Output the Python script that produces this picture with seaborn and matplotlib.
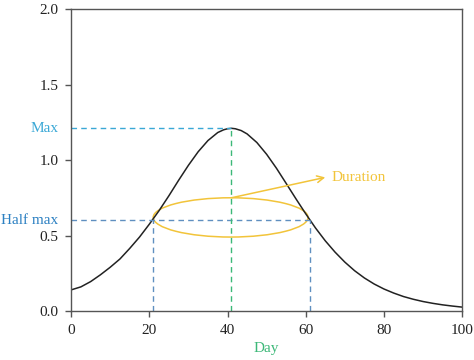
import matplotlib
matplotlib.use("Agg")
import matplotlib.pyplot as plt
import matplotlib.transforms as mtransforms
from matplotlib.patches import Ellipse
import seaborn as sns
import pandas as pd

# Curve (day, value)
days = [0, 2.5, 5, 7.5, 10, 12.5, 15, 17.5, 20, 22.5, 25, 27.5, 30, 32.5, 35,
        37.5, 39, 40, 41, 42, 43.5, 45, 47.5, 50, 52.5, 55, 57.5, 60, 62.5, 65,
        67.5, 70, 72.5, 75, 77.5, 80, 82.5, 85, 87.5, 90, 92.5, 95, 97.5, 100]
values = [0.14, 0.16, 0.195, 0.24, 0.29, 0.345, 0.415, 0.49, 0.575, 0.665,
          0.763, 0.866, 0.965, 1.055, 1.129, 1.182, 1.200, 1.207, 1.210, 1.207,
          1.195, 1.173, 1.116, 1.038, 0.946, 0.845, 0.743, 0.644, 0.550, 0.465,
          0.390, 0.324, 0.267, 0.219, 0.179, 0.146, 0.119, 0.096, 0.078, 0.063,
          0.051, 0.041, 0.033, 0.026]

peak_day = 41
max_value = 1.21
half_value = 0.6
half_left = 21
half_right = 61

x_ticks = [0, 20, 40, 60, 80, 100]
y_ticks = [0.0, 0.5, 1.0, 1.5, 2.0]

sns.set_theme(style="ticks")
plt.rcParams['font.family'] = ['Liberation Serif', 'DejaVu Serif']

fig = plt.figure(figsize=(4.74, 3.6), dpi=100)
ax = fig.add_axes([0.150, 0.136, 0.825, 0.839])

df = pd.DataFrame({"Day": days, "Value": values})
sns.lineplot(data=df, x="Day", y="Value", ax=ax, color="#222222", linewidth=1.1)

c_max = "#3aa8d6"
c_half = "#2c80c2"
c_halfline = "#5f8fc0"
c_green = "#3cb878"
c_yellow = "#f2c43a"

fs = 11
dash = (0, (4, 3))
ax.plot([0, peak_day], [max_value, max_value], color=c_max, lw=1.0, linestyle=dash)
ax.plot([0, half_right], [half_value, half_value], color=c_halfline, lw=1.0, linestyle=dash)
ax.plot([half_left, half_left], [0, half_value], color=c_halfline, lw=1.0, linestyle=dash)
ax.plot([half_right, half_right], [0, half_value], color=c_halfline, lw=1.0, linestyle=dash)
ax.plot([peak_day, peak_day], [0, max_value], color=c_green, lw=1.0, linestyle=dash)

ell = Ellipse((40.8, 0.62), width=39.6, height=0.26, fill=False,
              edgecolor=c_yellow, lw=1.1)
ax.add_patch(ell)
ax.annotate("", xy=(65, 0.885), xytext=(peak_day, 0.75),
            arrowprops=dict(arrowstyle="->", color=c_yellow, lw=1.1,
                            mutation_scale=12, shrinkA=0, shrinkB=0))
ax.text(66.5, 0.885, "Duration", color=c_yellow, fontsize=fs,
        ha="left", va="center")

trans = mtransforms.blended_transform_factory(ax.transAxes, ax.transData)
ax.text(-0.033, max_value, "Max", color=c_max, fontsize=fs,
        ha="right", va="center", transform=trans)
ax.text(-0.033, half_value, "Half max", color=c_half, fontsize=fs,
        ha="right", va="center", transform=trans)

ax.set_xlim(0, 100)
ax.set_ylim(0, 2.0)
ax.set_xticks(x_ticks)
ax.set_yticks(y_ticks)
ax.set_yticklabels([f"{v:.1f}" for v in y_ticks])
ax.set_xlabel("Day", color=c_green, fontsize=fs, labelpad=4)
ax.set_ylabel("")
ax.tick_params(axis="both", direction="out", length=4, width=1.0,
               colors="#555555", labelcolor="#222222", labelsize=fs, pad=5)
for sp in ax.spines.values():
    sp.set_visible(True)
    sp.set_color("#555555")
    sp.set_linewidth(1.0)

fig.savefig("out.png", dpi=100)
